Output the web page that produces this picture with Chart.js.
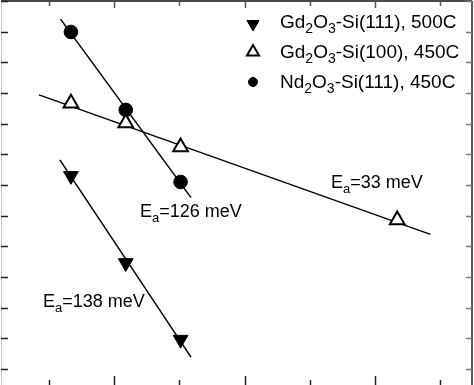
<!DOCTYPE html>
<html>
<head>
<meta charset="utf-8">
<script src="https://cdn.jsdelivr.net/npm/chart.js@4.4.0/dist/chart.umd.min.js"></script>
<style>
  html, body { margin: 0; padding: 0; background: #fff; }
  canvas { display: block; }
</style>
</head>
<body>
<canvas id="arrhenius" width="474" height="385"></canvas>
<script>
// legend labels, "_x" marks a subscript character
const seriesLabels = ['Gd_2O_3-Si(111), 500C', 'Gd_2O_3-Si(100), 450C', 'Nd_2O_3-Si(111), 450C'];

const gdSi111X = [1.134, 1.218, 1.302];
const gdSi111Y = [6.30, 3.46, 0.96];
const gdSi100X = [1.134, 1.218, 1.302, 1.634];
const gdSi100Y = [8.67, 8.02, 7.24, 4.86];
const ndSi111X = [1.134, 1.218, 1.302];
const ndSi111Y = [10.99, 8.45, 6.10];

// fitted lines, end points
const gdSi111FitX = [1.117, 1.318];
const gdSi111FitY = [6.82, 0.39];
const gdSi100FitX = [1.085, 1.685];
const gdSi100FitY = [8.94, 4.39];
const ndSi111FitX = [1.118, 1.318];
const ndSi111FitY = [11.41, 5.59];

// tick values (labels are cut off in the picture)
const xTickValues = [1.1, 1.2, 1.3, 1.4, 1.5, 1.6, 1.7];
const xMajorTicks = [1.2, 1.4, 1.6];
const yTickValues = [0, 1, 2, 3, 4, 5, 6, 7, 8, 9, 10, 11, 12];

// activation energy notes
const activationLabels = ['E_a=138 meV', 'E_a=33 meV', 'E_a=126 meV'];

const toPoints = (xs, ys) => xs.map((x, i) => ({ x: x, y: ys[i] }));

// draws text where "_x" is a subscript
function drawRich(ctx, str, x, y, size) {
  const parts = str.split(/(_.)/).filter(p => p.length);
  let cx = x;
  ctx.textBaseline = 'alphabetic';
  ctx.textAlign = 'left';
  parts.forEach(p => {
    if (p[0] === '_') {
      ctx.font = Math.round(size * 0.72) + 'px "Liberation Sans", Arial, sans-serif';
      ctx.fillText(p[1], cx, y + size * 0.3);
      cx += ctx.measureText(p[1]).width;
    } else {
      ctx.font = size + 'px "Liberation Sans", Arial, sans-serif';
      ctx.fillText(p, cx, y);
      cx += ctx.measureText(p).width;
    }
  });
}

const frameAndNotes = {
  id: 'frameAndNotes',
  afterDatasetsDraw(chart) {
    const ctx = chart.ctx;
    const a = chart.chartArea;
    const xs = chart.scales.x;
    const ys = chart.scales.y;
    ctx.save();

    // frame
    ctx.lineWidth = 1;
    ctx.strokeStyle = '#c8c8c8';
    ctx.beginPath(); ctx.moveTo(a.left + 0.5, a.top); ctx.lineTo(a.left + 0.5, a.bottom); ctx.stroke();
    ctx.lineWidth = 2;
    ctx.strokeStyle = '#4a4a4a';
    ctx.beginPath(); ctx.moveTo(a.left, a.top); ctx.lineTo(a.right, a.top); ctx.stroke();
    ctx.strokeStyle = '#5a5a5a';
    ctx.beginPath(); ctx.moveTo(a.right, a.top); ctx.lineTo(a.right, a.bottom); ctx.stroke();

    // inward ticks on x (bottom/top)
    ctx.lineWidth = 1.5;
    xTickValues.forEach(v => {
      const px = Math.round(xs.getPixelForValue(v)) + 0.5;
      const major = xMajorTicks.includes(v);
      ctx.strokeStyle = '#222';
      ctx.beginPath(); ctx.moveTo(px, a.bottom); ctx.lineTo(px, a.bottom - (major ? 9 : 5)); ctx.stroke();
      ctx.strokeStyle = '#555';
      ctx.beginPath(); ctx.moveTo(px, a.top); ctx.lineTo(px, a.top + (major ? 7 : 5)); ctx.stroke();
    });
    // inward ticks on y (left/right)
    yTickValues.forEach(v => {
      const py = Math.round(ys.getPixelForValue(v)) + 0.5;
      ctx.strokeStyle = '#222';
      ctx.beginPath(); ctx.moveTo(a.left, py); ctx.lineTo(a.left + 7, py); ctx.stroke();
      ctx.strokeStyle = '#777';
      ctx.beginPath(); ctx.moveTo(a.right, py); ctx.lineTo(a.right - 6, py); ctx.stroke();
    });

    // legend
    const markerDs = chart.data.datasets.filter(d => !d.showLine);
    markerDs.forEach((d, i) => {
      const my = [24, 52, 82][i];
      ctx.strokeStyle = d.borderColor;
      ctx.fillStyle = d.backgroundColor;
      ctx.lineWidth = d.borderWidth;
      Chart.helpers.drawPoint(ctx, {
        pointStyle: d.pointStyle,
        rotation: d.pointRotation || 0,
        radius: d.pointStyle === 'circle' ? 4.5 : 7,
        borderWidth: d.borderWidth
      }, 253, my);
      ctx.fillStyle = '#000';
      drawRich(ctx, seriesLabels[i], 280, [27.5, 57.5, 87.5][i], 19);
    });

    // activation energy notes
    const notePos = [[43, 307], [331, 188], [140, 217]];
    ctx.fillStyle = '#000';
    activationLabels.forEach((s, i) => drawRich(ctx, s, notePos[i][0], notePos[i][1], 18));

    ctx.restore();
  }
};

const lineStyle = {
  showLine: true, pointRadius: 0, borderColor: '#000', borderWidth: 1.5,
  backgroundColor: '#000', order: 2
};

new Chart(document.getElementById('arrhenius'), {
  type: 'scatter',
  data: {
    datasets: [
      { data: toPoints(gdSi111X, gdSi111Y), showLine: false, pointStyle: 'triangle', pointRotation: 180,
        pointRadius: 8.5, backgroundColor: '#000', borderColor: '#000', borderWidth: 1, order: 1 },
      { data: toPoints(gdSi100X, gdSi100Y), showLine: false, pointStyle: 'triangle',
        pointRadius: 8.5, backgroundColor: '#fff', borderColor: '#000', borderWidth: 2, order: 1 },
      { data: toPoints(ndSi111X, ndSi111Y), showLine: false, pointStyle: 'circle',
        pointRadius: 6.8, backgroundColor: '#000', borderColor: '#000', borderWidth: 1, order: 1 },
      Object.assign({ data: toPoints(gdSi111FitX, gdSi111FitY) }, lineStyle),
      Object.assign({ data: toPoints(gdSi100FitX, gdSi100FitY) }, lineStyle),
      Object.assign({ data: toPoints(ndSi111FitX, ndSi111FitY) }, lineStyle)
    ]
  },
  options: {
    responsive: false,
    animation: false,
    devicePixelRatio: 1,
    layout: { autoPadding: false, padding: { left: 1, top: 1, right: 2, bottom: 0 } },
    plugins: { legend: { display: false }, tooltip: { enabled: false } },
    scales: {
      x: { type: 'linear', display: false, min: 1.0268, max: 1.7486 },
      y: { type: 'linear', display: false, min: -0.52, max: 12 }
    }
  },
  plugins: [frameAndNotes]
});
</script>
</body>
</html>
